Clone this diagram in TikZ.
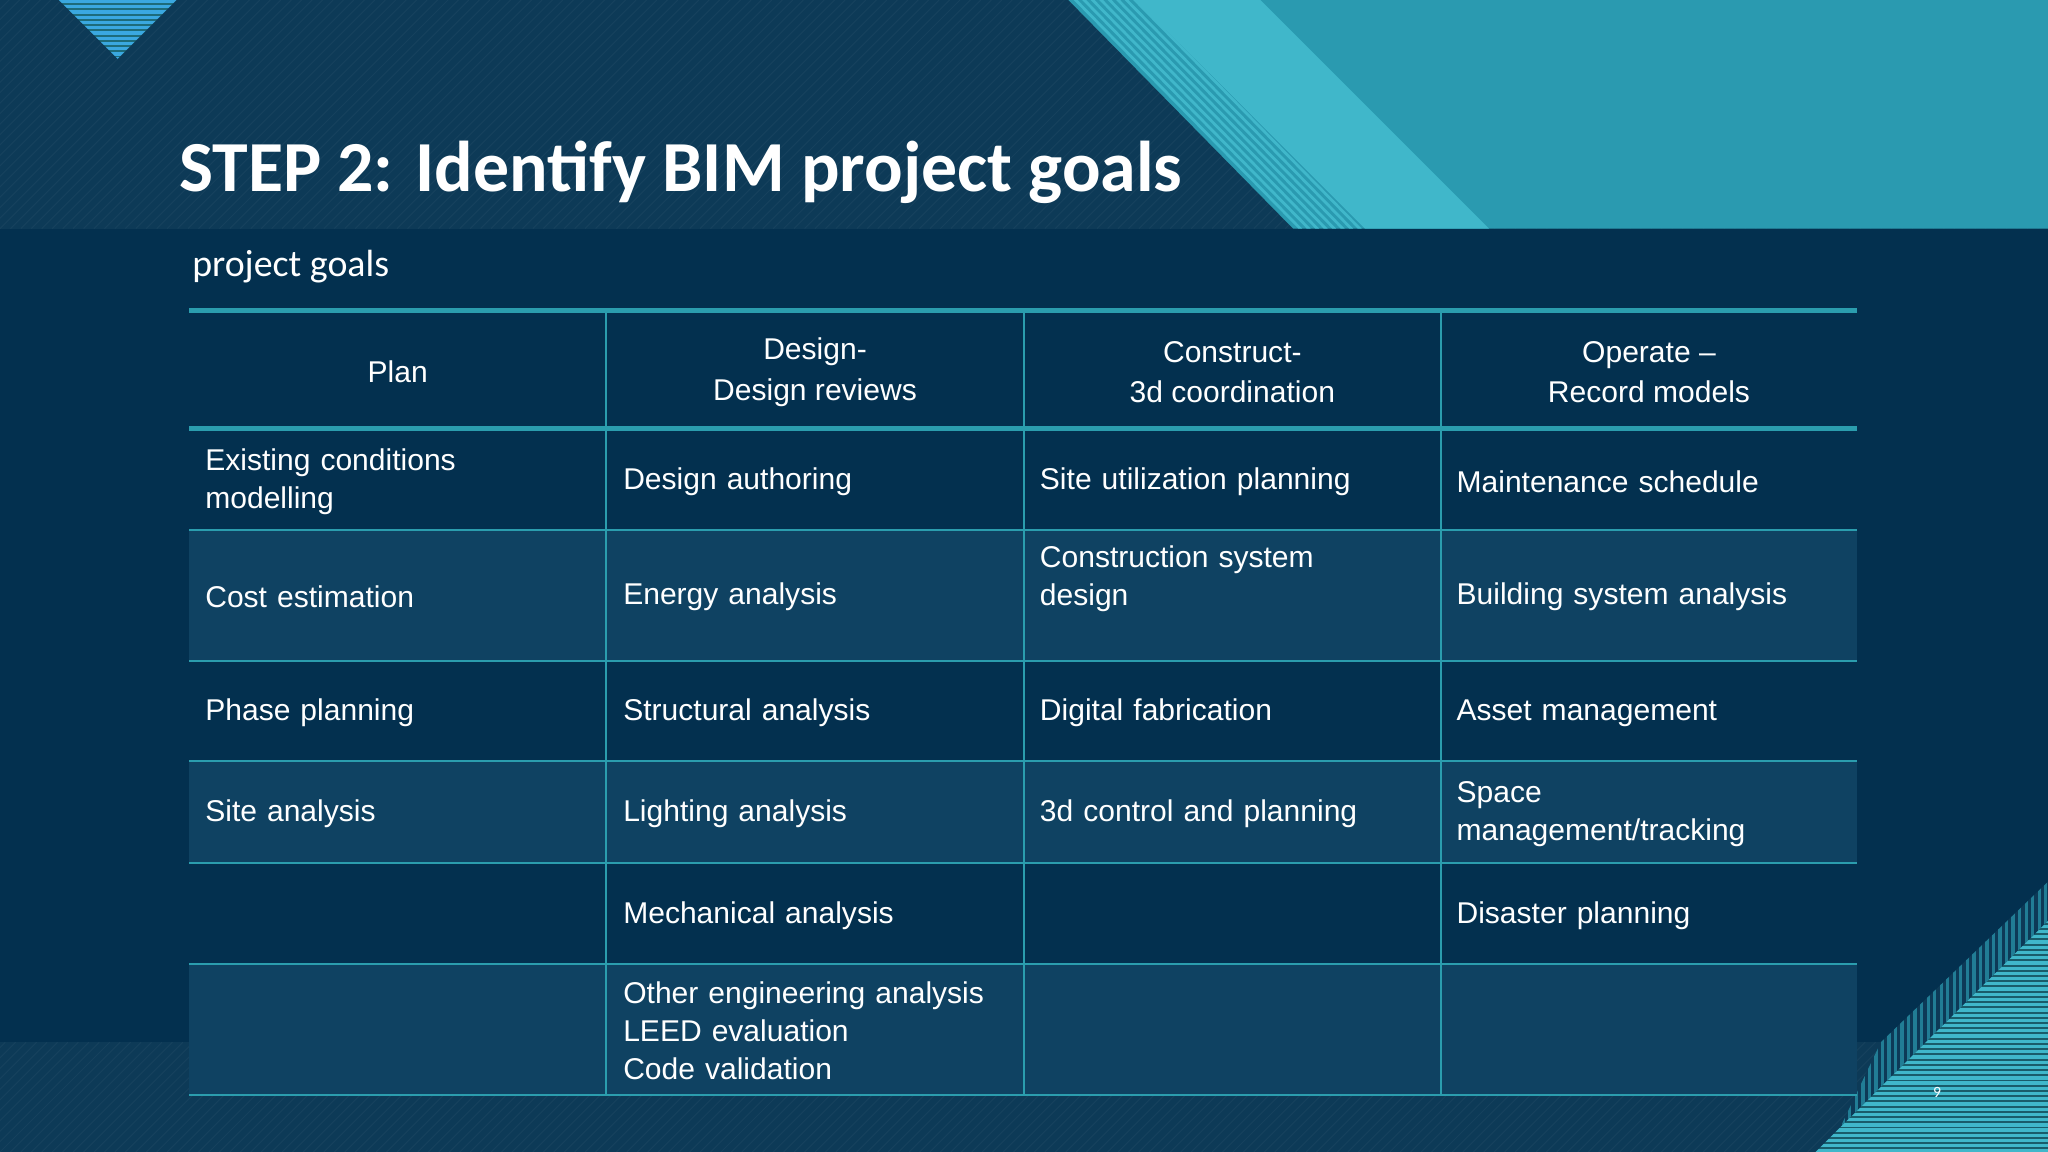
\documentclass[tikz,border=0pt]{standalone}
\usepackage{fontspec}
\setmainfont{Liberation Sans}
\newfontfamily\carl{Carlito}
\definecolor{bgtop}{HTML}{0D3A57}
\definecolor{bgmid}{HTML}{03304F}
\definecolor{rowlt}{HTML}{0F4262}
\definecolor{teal}{HTML}{2A9AB0}
\definecolor{cyanl}{HTML}{40B7CA}
\definecolor{lblue}{HTML}{3AA8E0}
\definecolor{rule}{HTML}{2B9DAE}
\tikzset{
  cell/.style={anchor=west,text=white,font=\fontsize{23}{29}\selectfont,align=left,text width=300pt,inner sep=0pt},
  head/.style={anchor=center,text=white,font=\fontsize{23}{31}\selectfont,align=center,inner sep=0pt},
  grid/.style={draw=rule,line width=1.5pt},
  thickrule/.style={draw=rule,line width=4pt}
}
\begin{document}
\begin{tikzpicture}[x=1pt,y=-1pt]
\useasboundingbox (0,0) rectangle (1568,882);
% background
\fill[bgmid] (0,0) rectangle (1568,882);
\fill[bgtop] (0,0) rectangle (1568,175);
\fill[bgtop] (0,798) rectangle (1568,882);
\foreach \i in {-40,...,200} {
  \draw[white,opacity=0.04,line width=0.8pt] (\i*8,175) -- (\i*8+175,0);
  \draw[white,opacity=0.04,line width=0.8pt] (\i*8,882) -- (\i*8+84,798);
}
% top-right decoration
\fill[teal] (818,0) -- (1568,0) -- (1568,175) -- (990,175) -- cycle;
\fill[cyanl] (870,0) -- (965,0) -- (1140,175) -- (1045,175) -- cycle;
\foreach \k in {0,...,7} {
  \fill[cyanl] (822+\k*6.5,0) -- (825+\k*6.5,0) -- (997+\k*6.5,175) -- (994+\k*6.5,175) -- cycle;
}
% top-left triangle
\begin{scope}
\clip (45,0) -- (135,0) -- (90,45) -- cycle;
\fill[teal!70!black] (40,0) rectangle (140,50);
\foreach \k in {0,...,12} { \fill[lblue] (40,\k*4) rectangle (140,\k*4+2.5); }
\end{scope}
% bottom-right decoration
\begin{scope}
\clip (1440,798) -- (1568,675) -- (1568,882) -- (1400,882) -- cycle;
\fill[bgtop] (1380,660) rectangle (1568,882);
\foreach \k in {0,...,40} { \fill[teal!70!bgtop] (1380+\k*5,660) rectangle (1382.5+\k*5,882); }
\end{scope}
\begin{scope}
\clip (1390,882) -- (1568,705) -- (1568,882) -- cycle;
\fill[teal!60!black] (1380,700) rectangle (1568,882);
\foreach \k in {0,...,50} { \fill[cyanl] (1380,700+\k*4) rectangle (1568,700+\k*4+2.5); }
\end{scope}
\node[text=white,font=\carl\fontsize{12}{12}\selectfont] (pg) at (1483,836) {9};
% title
\node[anchor=base west,text=white,font=\carl\bfseries\fontsize{55}{60}\selectfont,inner sep=0pt] (title) at (137,147) {STEP 2: Identify BIM project goals};
\node[anchor=base west,text=white,font=\carl\fontsize{29}{32}\selectfont,inner sep=0pt] (sub) at (147,212) {project goals};
% table row fills
\fill[rowlt] (145,406) rectangle (1422,506);
\fill[rowlt] (145,583) rectangle (1422,661);
\fill[rowlt] (145,738) rectangle (1422,838);
% grid
\foreach \y in {406,506,583,661,738,838} { \draw[grid] (145,\y) -- (1422,\y); }
\foreach \x in {464,784,1103} { \draw[grid] (\x,240) -- (\x,838); }
\draw[thickrule] (145,238) -- (1422,238);
\draw[thickrule] (145,328) -- (1422,328);
% header
\node[head] (h1) at (304.5,285) {Plan};
\node[head] (h2) at (624,285) {Design-\\Design reviews};
\node[head] (h3) at (943.5,285) {Construct-\\3d coordination};
\node[head] (h4) at (1262.5,285) {Operate --\\Record models};
% rows
\node[cell] (a1) at (157,369) {Existing conditions\\modelling};
\node[cell] (b1) at (477,369) {Design authoring};
\node[cell] (c1) at (796,369) {Site utilization planning};
\node[cell] (d1) at (1115,369) {Maintenance schedule};
\node[cell] (a2) at (157,457) {Cost estimation};
\node[cell] (b2) at (477,457) {Energy analysis};
\node[cell] (c2) at (796,443) {Construction system\\design};
\node[cell] (d2) at (1115,457) {Building system analysis};
\node[cell] (a3) at (157,546) {Phase planning};
\node[cell] (b3) at (477,546) {Structural analysis};
\node[cell] (c3) at (796,546) {Digital fabrication};
\node[cell] (d3) at (1115,546) {Asset management};
\node[cell] (a4) at (157,623) {Site analysis};
\node[cell] (b4) at (477,623) {Lighting analysis};
\node[cell] (c4) at (796,623) {3d control and planning};
\node[cell] (d4) at (1115,623) {Space\\management/tracking};
\node[cell] (b5) at (477,701) {Mechanical analysis};
\node[cell] (d5) at (1115,701) {Disaster planning};
\node[cell] (b6) at (477,789) {Other engineering analysis\\LEED evaluation\\Code validation};
\end{tikzpicture}
\end{document}
